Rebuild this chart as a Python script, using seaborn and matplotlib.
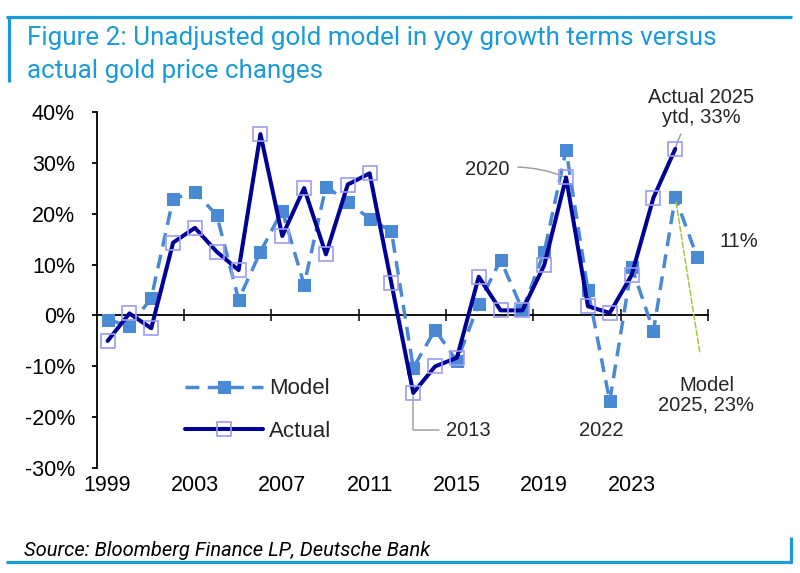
import matplotlib
matplotlib.use("Agg")
import matplotlib.pyplot as plt
from matplotlib.lines import Line2D
import seaborn as sns
import pandas as pd

# ---- data ----
model_years = list(range(1999, 2027))
model_vals = [-0.8, -2.1, 3.4, 22.9, 24.2, 19.7, 3.1, 12.5, 20.6, 6.0, 25.3, 22.3,
              19.0, 16.5, -10.3, -2.8, -9.0, 2.3, 10.9, 1.1, 12.5, 32.5, 5.0,
              -16.8, 9.6, -3.0, 23.2, 11.5]
actual_years = list(range(1999, 2026))
actual_vals = [-5.0, 0.4, -2.5, 14.3, 17.2, 12.5, 8.9, 35.6, 15.6, 25.0, 12.0, 25.7,
               27.9, 6.3, -15.2, -10.0, -8.3, 7.6, 1.0, 1.0, 9.9, 27.1, 1.8, 0.5,
               7.9, 23.1, 32.7]
xtick_years = [1999, 2003, 2007, 2011, 2015, 2019, 2023]
ytick_vals = [40, 30, 20, 10, 0, -10, -20, -30]
ytick_labels = ["40%", "30%", "20%", "10%", "0%", "-10%", "-20%", "-30%"]
series_names = ["Model", "Actual"]

title_l1 = "Figure 2: Unadjusted gold model in yoy growth terms versus"
title_l2 = "actual gold price changes"
source_txt = "Source: Bloomberg Finance LP, Deutsche Bank"

model_df = pd.DataFrame({"year": model_years, "value": model_vals})
actual_df = pd.DataFrame({"year": actual_years, "value": actual_vals})

# ---- style ----
sns.set_style("white")
plt.rcParams["font.family"] = ["Liberation Sans", "DejaVu Sans"]

W, H = 800, 573
fig = plt.figure(figsize=(W / 100, H / 100), dpi=100)
ax = fig.add_axes([96.7 / W, 1 - 468.3 / H, (708 - 96.7) / W, (468.3 - 111.7) / H])

model_color = "#4a8ad4"
actual_color = "#000094"
actual_edge = "#9c9cf2"
frame_blue = "#1a9ad6"

sns.lineplot(data=model_df, x="year", y="value", ax=ax, color=model_color,
             linewidth=2.5, linestyle=(0, (4.0, 2.4)), marker="s", markersize=8.8,
             markeredgecolor=model_color, markerfacecolor=model_color,
             label=series_names[0], zorder=3)
sns.lineplot(data=actual_df, x="year", y="value", ax=ax, color=actual_color,
             linewidth=2.9, marker="s", markersize=9.6, markerfacecolor="none",
             markeredgecolor=actual_edge, markeredgewidth=1.2,
             label=series_names[1], zorder=4)

ax.set_xlim(1998.5, 2026.5)
ax.set_ylim(-30, 40)
ax.set_xlabel("")
ax.set_ylabel("")

for s in ["top", "right", "bottom"]:
    ax.spines[s].set_visible(False)
ax.spines["left"].set_color("black")
ax.spines["left"].set_linewidth(1.3)

ax.set_yticks(ytick_vals)
ax.set_yticklabels(ytick_labels)
ax.tick_params(axis="y", direction="out", length=3.6, width=1.3, pad=12,
               labelsize=15.5, colors="black", left=True)
ax.set_xticks(xtick_years)
ax.set_xticklabels([str(y) for y in xtick_years])
ax.tick_params(axis="x", length=0, pad=5, labelsize=15.5, colors="black")

# zero line with category-boundary tick marks
zero_frac = (0 - (-30)) / 70
sec = ax.secondary_xaxis(zero_frac)
sec.set_xticks([y - 0.5 for y in xtick_years[1:]] + [2026.5])
sec.tick_params(axis="x", which="both", direction="inout", length=9, width=1.3,
                bottom=True, top=False, labelbottom=False, labeltop=False)
sec.spines["bottom"].set_linewidth(1.3)
sec.spines["bottom"].set_color("black")

# legend
ax.legend(loc="center left", bbox_to_anchor=((185 - 96.7) / 611.3, 0.1635),
          frameon=False, handlelength=3.5, fontsize=16, labelspacing=0.95,
          handletextpad=0.3, borderaxespad=0, borderpad=0)

# annotations
gray = "#a0a0a0"
ax.annotate("Actual 2025\nytd, 33%", xy=(2025, actual_vals[-1]), xytext=(2026.2, 40.8),
            ha="center", va="center", fontsize=14.5, linespacing=1.05,
            annotation_clip=False,
            arrowprops=dict(arrowstyle="-", color=gray, lw=1.1, shrinkA=3, shrinkB=1,
                            connectionstyle="arc3,rad=0.15"))
ax.annotate("2020", xy=(2020, actual_vals[21]), xytext=(2016.37, 28.6),
            ha="center", va="center", fontsize=14.5, annotation_clip=False,
            arrowprops=dict(arrowstyle="-", color=gray, lw=1.1, shrinkA=4, shrinkB=1,
                            connectionstyle="arc3,rad=-0.15"))
ax.annotate("2013", xy=(2013, actual_vals[14]), xytext=(2015.52, -22.5),
            ha="center", va="center", fontsize=14.5, annotation_clip=False,
            arrowprops=dict(arrowstyle="-", color=gray, lw=1.1, shrinkA=3, shrinkB=2,
                            connectionstyle="angle,angleA=0,angleB=90,rad=0"))
ax.text(2021.63, -22.5, "2022", ha="center", va="center", fontsize=14.5)
ax.text(2027.9, 14.45, "11%", ha="center", va="center", fontsize=14.5, clip_on=False)
ax.annotate("Model\n2025, 23%", xy=(2025, model_vals[-2]), xytext=(2026.43, -15.6),
            ha="center", va="center", fontsize=14.5, linespacing=1.05,
            annotation_clip=False,
            arrowprops=dict(arrowstyle="-", color="#9ccc3c", lw=1.1, linestyle="--",
                            shrinkA=15, shrinkB=2))

# title, source and frame
fig.text(27 / W, 1 - 45 / H, title_l1, color=frame_blue, fontsize=18.7,
         family=["Roboto", "DejaVu Sans"], va="baseline", ha="left")
fig.text(27 / W, 1 - 78.3 / H, title_l2, color=frame_blue, fontsize=18.7,
         family=["Roboto", "DejaVu Sans"], va="baseline", ha="left")
fig.text(24 / W, 1 - 556 / H, source_txt, color="black", fontsize=14.5, style="italic",
         family=["Roboto", "DejaVu Sans"], va="baseline", ha="left")

def fl(x0, y0, x1, y1):
    fig.add_artist(Line2D([x0 / W, x1 / W], [1 - y0 / H, 1 - y1 / H],
                          color=frame_blue, lw=2.3, solid_capstyle="butt"))

fl(6, 16.7, 792, 16.7)
fl(8.5, 15.5, 8.5, 82)
fl(6, 561.7, 792, 561.7)
fl(790.5, 536.7, 790.5, 562.8)

fig.savefig("out.png", dpi=100, facecolor="white")
